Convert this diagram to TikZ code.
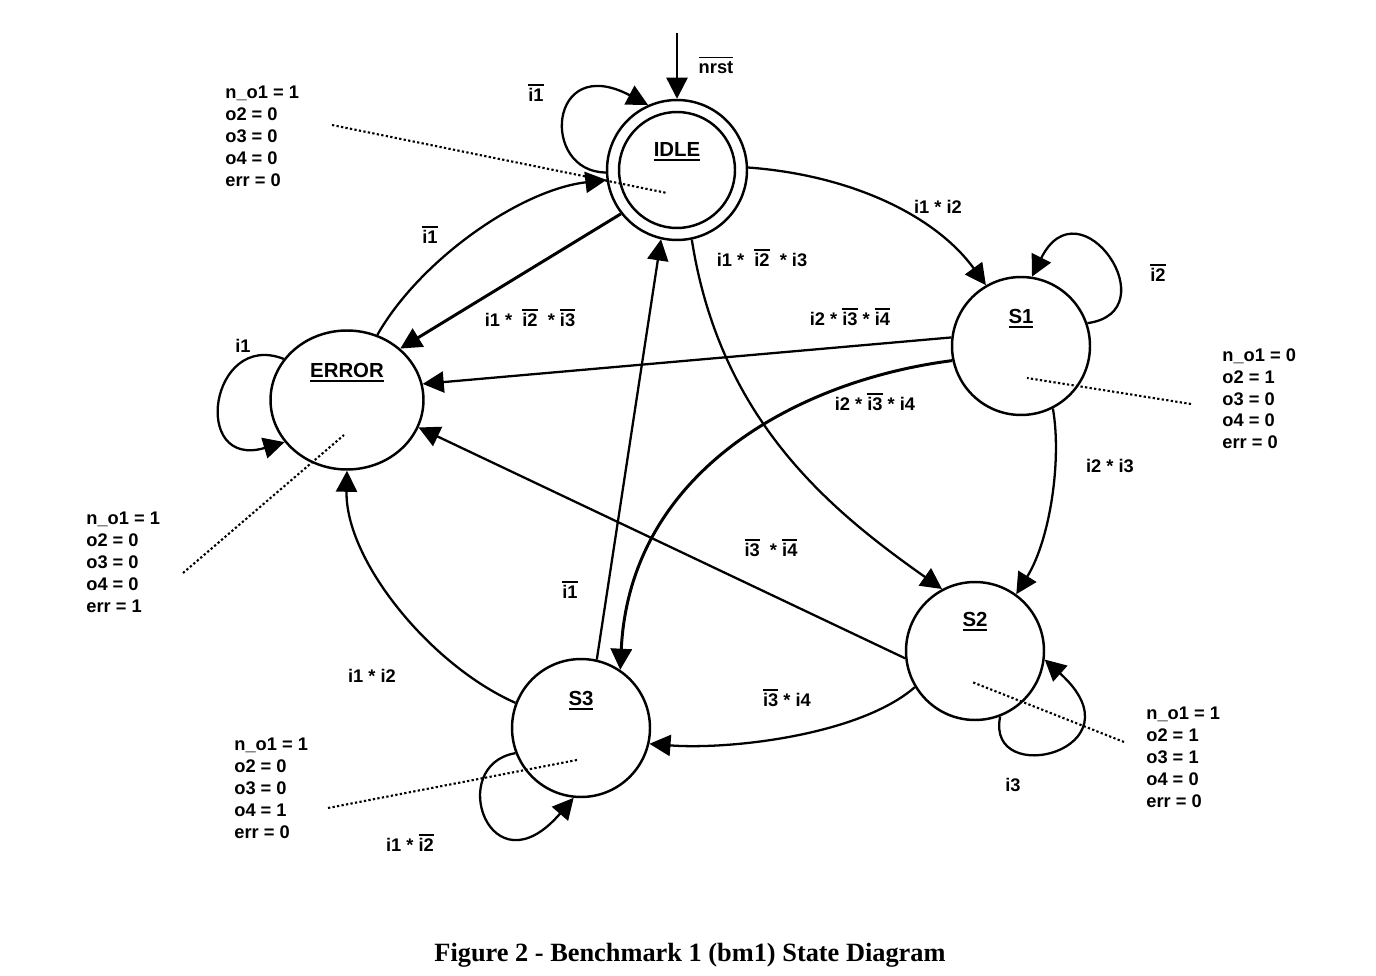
\documentclass[tikz,border=0pt]{standalone}
\usepackage{fontspec}
\setmainfont{Liberation Sans}
\newfontfamily\titlefont{Liberation Serif}
\usetikzlibrary{arrows.meta,shapes.geometric}
\newcommand\ovl[1]{\setbox0\hbox{#1}\rlap{\rule[\dimexpr\ht0+1.6pt\relax]{\wd0}{0.9pt}}\box0\relax}
\newcommand\ulin[1]{\setbox0\hbox{#1}\rlap{\rule[-2.6pt]{\wd0}{1.4pt}}\box0\relax}
\begin{document}
\begin{tikzpicture}[x=0.02cm,y=-0.02cm,
  every node/.style={font=\bfseries\fontsize{10.4}{12.5}\selectfont},
  state/.style={draw,circle,line width=1.4pt,minimum size=2.76cm,inner sep=0pt},
  edge/.style={line width=1.3pt,-{Triangle[length=12pt,width=12pt]}},
  thickedge/.style={edge,line width=1.7pt},
  dot/.style={line width=1.2pt,dash pattern=on 1.3pt off 1.3pt},
  lbl/.style={inner sep=0pt},
  ann/.style={align=left,anchor=north west,inner sep=0pt},
  sname/.style={font=\bfseries\fontsize{11.6}{14}\selectfont,inner sep=0pt}]
\useasboundingbox (0,0) rectangle (1376,976);

% states
\node[state,minimum size=2.8cm] (idle) at (677,170) {};
\node[state,minimum size=2.32cm] (idlein) at (677,170) {};
\node[draw,ellipse,line width=1.4pt,minimum width=3.06cm,minimum height=2.78cm,inner sep=0pt] (error) at (347,400) {};
\node[state] (s1) at (1021,346) {};
\node[state] (s2) at (975,651) {};
\node[state] (s3) at (581,728) {};

\node[sname] (idlet) at (677,152) {\ulin{IDLE}};
\node[sname] (errort) at (347,373) {\ulin{ERROR}};
\node[sname] (s1t) at (1021,319) {\ulin{S1}};
\node[sname] (s2t) at (975,622) {\ulin{S2}};
\node[sname] (s3t) at (581,701) {\ulin{S3}};

% reset
\coordinate (rst) at (677,33);
\draw[edge] (rst) -- (idle.north);
\node[lbl] (rstl) at (716,65) {\ovl{nrst}};

% transitions
\draw[edge] (idle.182) .. controls (540,172) and (548,52) .. (idle.114);
\node[lbl] (l1) at (536,93) {\ovl{i1}};

\draw[edge] (error.65) .. controls (420,260) and (520,190) .. (idle.188);
\node[lbl] (l2) at (430,235) {\ovl{i1}};

\draw[thickedge] (idle.218) -- (error.44);
\node[lbl] (l3) at (530,318) {i1 *\ \ \ovl{i2}\ \ * \ovl{i3}};

\draw[edge] (idle.2) .. controls (850,175) and (935,215) .. (s1.120);
\node[lbl] (l4) at (938,207) {i1 * i2};

\draw[edge] (s1.19) .. controls (1170,312) and (1080,180) .. (s1.81);
\node[lbl] (l5) at (1158,273) {\ovl{i2}};

\draw[edge] (idle.-78) .. controls (720,420) and (830,510) .. (s2.118);
\node[lbl] (l6) at (762,258) {i1 *\ \ \ovl{i2}\ \ * i3};

\draw[edge] (s1.173) -- (error.12);
\node[lbl] (l7) at (850,317) {i2 * \ovl{i3} * \ovl{i4}};

\draw[thickedge] (s1.192) .. controls (800,380) and (630,470) .. (s3.56);
\node[lbl] (l8) at (875,402) {i2 * \ovl{i3} * i4};

\draw[edge] (s1.-63) .. controls (1062,460) and (1050,540) .. (s2.54);
\node[lbl] (l9) at (1110,466) {i2 * i3};

\draw[edge] (s2.186) -- (error.-21);
\node[lbl] (l10) at (771,548) {\ovl{i3}\ \ *\ \ovl{i4}};

\draw[edge] (s2.-69) .. controls (985,790) and (1145,750) .. (s2.-7);
\node[lbl] (l11) at (1013,785) {i3};

\draw[edge] (s2.211) .. controls (860,735) and (730,750) .. (s3.-13);
\node[lbl] (l12) at (787,698) {\ovl{i3} * i4};

\draw[edge] (s3.77) -- (idle.257);
\node[lbl] (l13) at (570,590) {\ovl{i1}};

\draw[edge] (s3.159) .. controls (430,665) and (345,560) .. (error.-90);
\node[lbl] (l14) at (372,676) {i1 * i2};

\draw[edge] (s3.201) .. controls (445,765) and (490,895) .. (s3.264);
\node[lbl] (l15) at (410,843) {i1 * \ovl{i2}};

\draw[edge] (error.147) .. controls (210,330) and (190,470) .. (error.214);
\node[lbl] (l16) at (243,346) {i1};

% output annotations
\node[ann] (aidle) at (225,86) {n\_o1 = 1\\o2 = 0\\o3 = 0\\o4 = 0\\err = 0};
\coordinate (da1) at (332,125); \coordinate (db1) at (667,193);
\draw[dot] (da1) -- (db1);

\node[ann] (aerr) at (86,512) {n\_o1 = 1\\o2 = 0\\o3 = 0\\o4 = 0\\err = 1};
\coordinate (da2) at (183,573); \coordinate (db2) at (344,435);
\draw[dot] (da2) -- (db2);

\node[ann] (as1) at (1222,348) {n\_o1 = 0\\o2 = 1\\o3 = 0\\o4 = 0\\err = 0};
\coordinate (da3) at (1191,404); \coordinate (db3) at (1027,378);
\draw[dot] (da3) -- (db3);

\node[ann] (as2) at (1146,707) {n\_o1 = 1\\o2 = 1\\o3 = 1\\o4 = 0\\err = 0};
\coordinate (da4) at (1124,742); \coordinate (db4) at (972,682);
\draw[dot] (da4) -- (db4);

\node[ann] (as3) at (234,738) {n\_o1 = 1\\o2 = 0\\o3 = 0\\o4 = 1\\err = 0};
\coordinate (da5) at (328,808); \coordinate (db5) at (577,760);
\draw[dot] (da5) -- (db5);

\node[font=\titlefont\bfseries\fontsize{15}{18}\selectfont] (title) at (690,955) {Figure 2 - Benchmark 1 (bm1) State Diagram};
\end{tikzpicture}
\end{document}
